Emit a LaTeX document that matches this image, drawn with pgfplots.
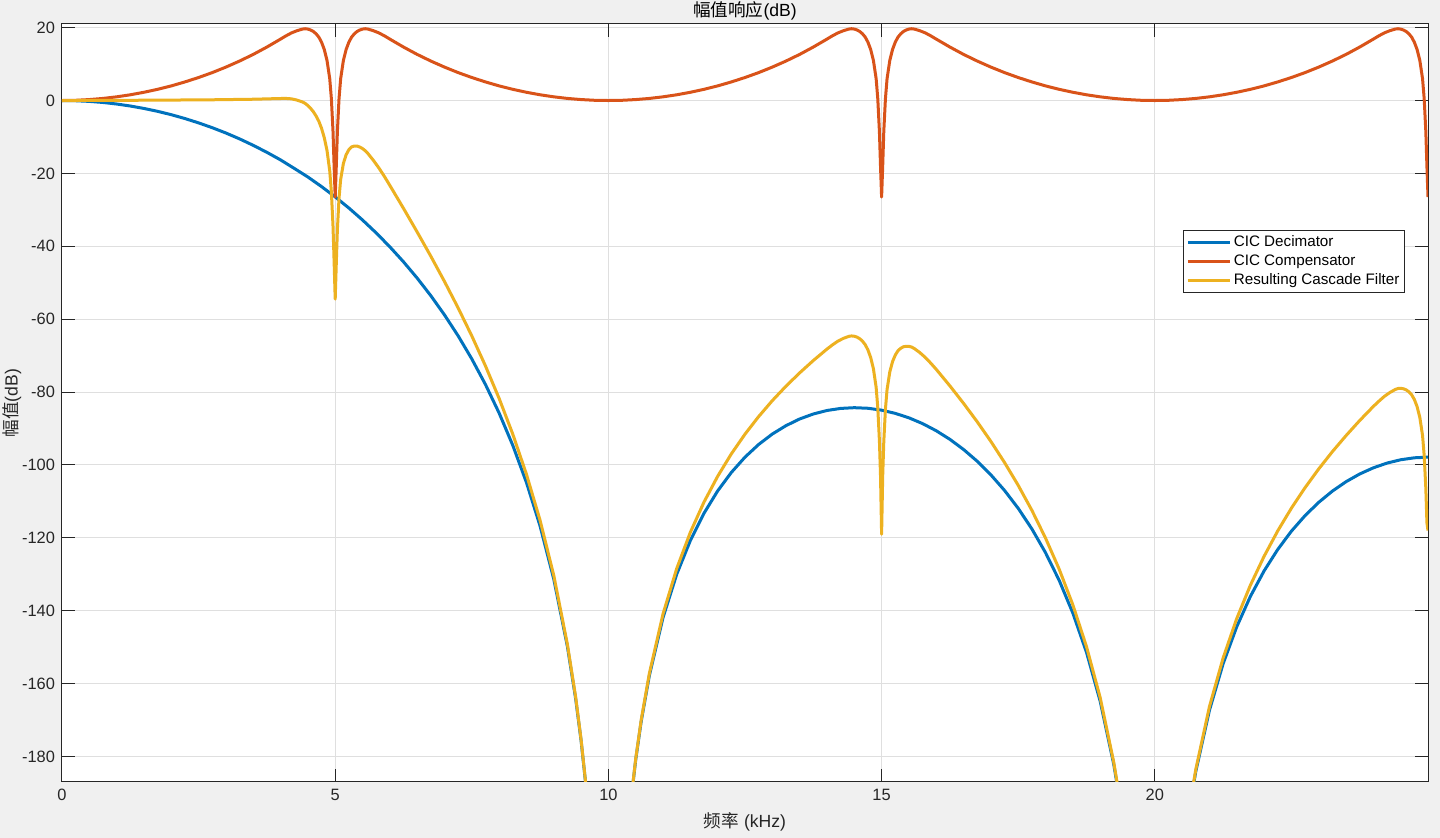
\documentclass[border=0pt]{standalone}
\usepackage{pgfplots}
\pgfplotsset{compat=1.18}
\usepackage{fontspec}
\setmainfont{Liberation Sans}
\newfontfamily\cjk{Noto Sans CJK SC}
\definecolor{mblue}{rgb}{0,0.447,0.741}
\definecolor{mred}{rgb}{0.85,0.325,0.098}
\definecolor{myellow}{rgb}{0.929,0.694,0.125}
\definecolor{axgray}{rgb}{0.15,0.15,0.15}
\definecolor{figgray}{rgb}{0.941,0.941,0.941}
\definecolor{gridgray}{rgb}{0.875,0.875,0.875}
\begin{document}
\begin{tikzpicture}
\fill[figgray] (-31pt,-28pt) rectangle (689pt,391pt);
\begin{axis}[
  at={(0pt,0pt)}, anchor=south west,
  scale only axis, width=683pt, height=379pt,
  xmin=0, xmax=25, ymin=-187, ymax=21,
  xtick={0,5,10,15,20},
  ytick={-180,-160,-140,-120,-100,-80,-60,-40,-20,0,20},
  axis background/.style={fill=white},
  axis line style={axgray, line width=0.5pt},
  tick style={axgray, line width=0.5pt},
  major tick length=6.5pt,
  tick align=inside,
  xtick pos=both, ytick pos=both,
  grid=major,
  major grid style={gridgray, line width=0.5pt},
  /pgf/number format/assume math mode=true,
  ticklabel style={font=\fontsize{8.2}{9}\selectfont, text=axgray},
  title={{\cjk 幅值响应}(dB)},
  title style={font=\fontsize{8.8}{10}\selectfont, text=black, yshift=-7.5pt},
  xlabel={{\cjk 频率} (kHz)},
  ylabel={{\cjk 幅值}(dB)},
  xlabel style={font=\fontsize{8.8}{10}\selectfont, text=axgray, yshift=1pt},
  ylabel style={font=\fontsize{8.8}{10}\selectfont, text=axgray, yshift=-6.5pt},
  unbounded coords=jump,
  legend style={at={(0.8206,0.7282)}, anchor=north west, draw=axgray, line width=0.5pt,
    fill=white, font=\fontsize{7.6}{9}\selectfont, inner sep=1.5pt, row sep=0pt,
    nodes={inner sep=1.2pt}},
  legend cell align=left,
  legend image code/.code={\draw[#1, line width=1.5pt] (0pt,0pt) -- (21pt,0pt);},
  every axis plot/.append style={line width=1.5pt, line join=round},
]
% CIC Decimator
\addplot[mblue] coordinates {
(0,0) (0.25,-0.06) (0.5,-0.24) (0.75,-0.54) (1,-0.96) (1.25,-1.51) (1.5,-2.18) (1.75,-2.97)
(2,-3.89) (2.25,-4.95) (2.5,-6.14) (2.75,-7.46) (3,-8.92) (3.25,-10.53) (3.5,-12.30) (3.75,-14.22)
(4,-16.30) (4.25,-18.62) (4.5,-20.99) (4.75,-23.62) (5,-26.45) (5.25,-29.50) (5.5,-32.79) (5.75,-36.33)
(6,-40.15) (6.25,-44.27) (6.5,-48.73) (6.75,-53.56) (7,-58.83) (7.25,-64.58) (7.5,-70.91) (7.75,-77.93)
(8,-85.76) (8.25,-94.62) (8.5,-104.82) (8.75,-116.79) (9,-131.32) (9.25,-149.85) (9.4,-164.08) (9.5,-175.62) (9.6,-189.66)
(10,nan)
(10.4,-193.87) (10.5,-180.88) (10.6,-170.4) (10.75,-157.76) (11,-141.88) (11.25,-130.01) (11.5,-120.73) (11.75,-113.25)
(12,-107.12) (12.25,-102.06) (12.5,-97.86) (12.75,-94.38) (13,-91.52) (13.25,-89.22) (13.5,-87.39) (13.75,-86.02)
(14,-85.06) (14.25,-84.49) (14.5,-84.29) (14.75,-84.45) (15,-84.97) (15.25,-85.85) (15.5,-87.07) (15.75,-88.66)
(16,-90.62) (16.25,-92.98) (16.5,-95.76) (16.75,-98.99) (17,-102.72) (17.25,-107.0) (17.5,-111.91) (17.75,-117.55)
(18,-124.08) (18.25,-131.67) (18.5,-140.65) (18.75,-151.44) (19,-164.83) (19.25,-182.25) (19.4,-195.83)
(20,nan)
(20.6,-197.35) (20.75,-184.12) (21,-167.32) (21.25,-154.56) (21.5,-144.39) (21.75,-136.05)
(22,-129.08) (22.25,-123.19) (22.5,-118.17) (22.75,-113.9) (23,-110.26) (23.25,-107.18) (23.5,-104.60) (23.75,-102.48)
(24,-100.79) (24.25,-99.49) (24.5,-98.58) (24.75,-98.04) (25,-97.86)
};
\addlegendentry{CIC Decimator}
% CIC Compensator
\addplot[mred] coordinates {
(0,0) (0.25,0.06) (0.5,0.26) (0.75,0.57) (1,1.01) (1.25,1.57) (1.5,2.26) (1.75,3.07) (2,4.01) (2.25,5.1)
(2.5,6.31) (2.75,7.66) (3,9.17) (3.25,10.83) (3.5,12.65) (3.75,14.67) (4,16.85) (4.1,17.75) (4.2,18.55)
(4.3,19.15) (4.4,19.6) (4.45,19.7) (4.5,19.6) (4.55,19.35) (4.6,18.95) (4.65,18.3) (4.7,17.4) (4.75,16.0)
(4.8,14.0) (4.85,11.0) (4.9,6.0) (4.93,0.5) (4.96,-8.5) (4.98,-18) (5,-26.5)
(5.02,-18) (5.04,-8.5) (5.07,0.5) (5.1,6.0) (5.15,11.0) (5.2,14.0) (5.25,16.0) (5.3,17.4) (5.35,18.3)
(5.4,18.95) (5.45,19.35) (5.5,19.6) (5.55,19.7) (5.6,19.6) (5.7,19.15) (5.8,18.55) (5.9,17.75) (6,16.85)
(6.25,14.67) (6.5,12.65) (6.75,10.83) (7,9.17) (7.25,7.66) (7.5,6.31) (7.75,5.1) (8,4.01) (8.25,3.07)
(8.5,2.26) (8.75,1.57) (9,1.01) (9.25,0.57) (9.5,0.26) (9.75,0.06)
(10,0) (10.25,0.06) (10.5,0.26) (10.75,0.57) (11,1.01) (11.25,1.57) (11.5,2.26) (11.75,3.07) (12,4.01) (12.25,5.1)
(12.5,6.31) (12.75,7.66) (13,9.17) (13.25,10.83) (13.5,12.65) (13.75,14.67) (14,16.85) (14.1,17.75) (14.2,18.55)
(14.3,19.15) (14.4,19.6) (14.45,19.7) (14.5,19.6) (14.55,19.35) (14.6,18.95) (14.65,18.3) (14.7,17.4) (14.75,16.0)
(14.8,14.0) (14.85,11.0) (14.9,6.0) (14.93,0.5) (14.96,-8.5) (14.98,-18) (15,-26.5)
(15.02,-18) (15.04,-8.5) (15.07,0.5) (15.1,6.0) (15.15,11.0) (15.2,14.0) (15.25,16.0) (15.3,17.4) (15.35,18.3)
(15.4,18.95) (15.45,19.35) (15.5,19.6) (15.55,19.7) (15.6,19.6) (15.7,19.15) (15.8,18.55) (15.9,17.75) (16,16.85)
(16.25,14.67) (16.5,12.65) (16.75,10.83) (17,9.17) (17.25,7.66) (17.5,6.31) (17.75,5.1) (18,4.01) (18.25,3.07)
(18.5,2.26) (18.75,1.57) (19,1.01) (19.25,0.57) (19.5,0.26) (19.75,0.06)
(20,0) (20.25,0.06) (20.5,0.26) (20.75,0.57) (21,1.01) (21.25,1.57) (21.5,2.26) (21.75,3.07) (22,4.01) (22.25,5.1)
(22.5,6.31) (22.75,7.66) (23,9.17) (23.25,10.83) (23.5,12.65) (23.75,14.67) (24,16.85) (24.1,17.75) (24.2,18.55)
(24.3,19.15) (24.4,19.6) (24.45,19.7) (24.5,19.6) (24.55,19.35) (24.6,18.95) (24.65,18.3) (24.7,17.4) (24.75,16.0)
(24.8,14.0) (24.85,11.0) (24.9,6.0) (24.93,0.5) (24.96,-8.5) (24.98,-18) (25,-26.5)
};
\addlegendentry{CIC Compensator}
% Resulting cascade
\addplot[myellow] coordinates {
(0,0) (0.25,0.0) (0.5,0.02) (0.75,0.03) (1,0.05) (1.25,0.06) (1.5,0.08) (1.75,0.10) (2,0.12) (2.25,0.15)
(2.5,0.17) (2.75,0.2) (3,0.25) (3.25,0.3) (3.5,0.35) (3.75,0.45) (4,0.55) (4.1,0.57) (4.2,0.46) (4.3,0.12)
(4.4,-0.39) (4.45,-0.79) (4.5,-1.39) (4.55,-2.15) (4.6,-3.07) (4.65,-4.25) (4.7,-5.68) (4.75,-7.62)
(4.8,-10.2) (4.85,-13.7) (4.9,-19.3) (4.93,-25.1) (4.96,-34.5) (4.98,-44.2) (5,-54.5)
(5.02,-44.7) (5.04,-35.4) (5.07,-26.8) (5.1,-21.65) (5.15,-17.26) (5.2,-14.88) (5.25,-13.5) (5.3,-12.74)
(5.35,-12.49) (5.4,-12.5) (5.45,-12.77) (5.5,-13.19) (5.55,-13.78) (5.6,-14.57) (5.7,-16.45) (5.8,-18.52)
(5.9,-20.83) (6,-23.3) (6.25,-29.6) (6.5,-36.08) (6.75,-42.73) (7,-49.66) (7.25,-56.92) (7.5,-64.6)
(7.75,-72.83) (8,-81.75) (8.25,-91.55) (8.5,-102.56) (8.75,-115.22) (9,-130.31) (9.25,-149.28)
(9.4,-163.6) (9.5,-175.36) (9.6,-189.5)
(10,nan)
(10.4,-193.7) (10.5,-180.62) (10.6,-170.0) (10.75,-157.19) (11,-140.87) (11.25,-128.44) (11.5,-118.47) (11.75,-110.18)
(12,-103.11) (12.25,-96.96) (12.5,-91.55) (12.75,-86.72) (13,-82.35) (13.25,-78.39) (13.5,-74.74) (13.75,-71.35)
(14,-68.21) (14.1,-67.06) (14.2,-66.03) (14.3,-65.27) (14.4,-64.72) (14.45,-64.6) (14.5,-64.69) (14.55,-64.94)
(14.6,-65.36) (14.65,-66.04) (14.7,-66.99) (14.75,-68.45) (14.8,-70.52) (14.85,-73.6) (14.9,-78.7)
(14.93,-84.28) (14.96,-93.36) (14.98,-102.92) (15,-119)
(15.02,-103.03) (15.04,-93.6) (15.07,-84.7) (15.1,-79.3) (15.15,-74.47) (15.2,-71.65) (15.25,-69.85) (15.3,-68.65)
(15.35,-67.98) (15.4,-67.57) (15.45,-67.44) (15.5,-67.47) (15.55,-67.66) (15.6,-68.07) (15.7,-69.18) (15.8,-70.51)
(15.9,-72.08) (16,-73.77) (16.25,-78.31) (16.5,-83.11) (16.75,-88.16) (17,-93.55) (17.25,-99.34) (17.5,-105.6)
(17.75,-112.45) (18,-120.07) (18.25,-128.6) (18.5,-138.39) (18.75,-149.87) (19,-163.82) (19.25,-181.68) (19.4,-195.4)
(20,nan)
(20.6,-197.0) (20.75,-183.55) (21,-166.31) (21.25,-152.99) (21.5,-142.13) (21.75,-132.98)
(22,-125.07) (22.25,-118.09) (22.5,-111.86) (22.75,-106.24) (23,-101.09) (23.25,-96.35) (23.5,-91.95) (23.75,-87.81)
(24,-83.94) (24.1,-82.52) (24.2,-81.2) (24.3,-80.14) (24.4,-79.3) (24.45,-79.03) (24.5,-78.98) (24.55,-79.1)
(24.6,-79.39) (24.65,-79.94) (24.7,-80.74) (24.75,-82.04) (24.8,-83.99) (24.85,-86.95) (24.9,-91.91)
(24.93,-97.39) (24.96,-106.37) (24.98,-115.86) (25,-118)
};
\addlegendentry{Resulting Cascade Filter}
\end{axis}
\pgfresetboundingbox
\path[use as bounding box] (-31pt,-28pt) rectangle (689pt,391pt);
\end{tikzpicture}
\end{document}
